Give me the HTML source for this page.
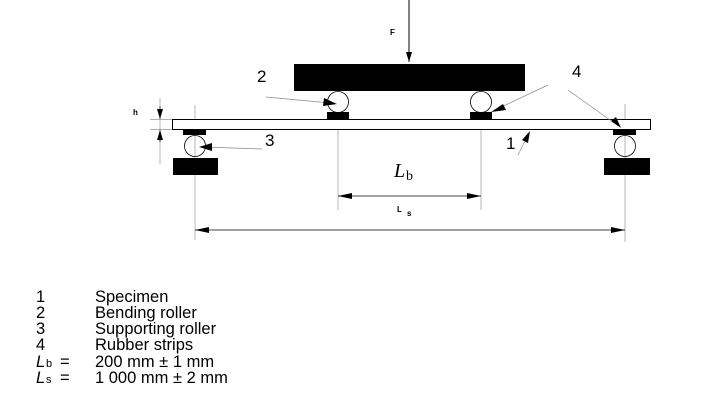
<!DOCTYPE html>
<html><head><meta charset="utf-8"><style>
html,body{margin:0;padding:0;background:#fff;}
svg{display:block;}
</style></head><body>
<svg width="706" height="420" xmlns="http://www.w3.org/2000/svg" font-family="Liberation Sans, sans-serif">
<defs>
<marker id="a" viewBox="0 0 10 6" refX="10" refY="3" markerWidth="10" markerHeight="6" markerUnits="userSpaceOnUse" orient="auto"><path d="M0,0 L10,3 L0,6 z" fill="#000"/></marker>
</defs>
<line x1="409" y1="0" x2="409" y2="62" stroke="#000" stroke-width="1" marker-end="url(#a)"/>
<text x="390" y="35" font-size="8" font-weight="bold">F</text>
<rect x="294" y="64" width="231" height="27" fill="#000"/>
<g stroke="#999" stroke-width="0.7">
<line x1="195" y1="105" x2="195" y2="240"/>
<line x1="338" y1="120" x2="338" y2="210"/>
<line x1="481" y1="120" x2="481" y2="210"/>
<line x1="625" y1="104" x2="625" y2="242"/>
<line x1="160" y1="98" x2="160" y2="164"/>
<line x1="150" y1="119.5" x2="172" y2="119.5"/>
<line x1="150" y1="129.5" x2="172" y2="129.5"/>
</g>
<rect x="172.5" y="119.5" width="478" height="10" fill="#fff" stroke="#000" stroke-width="1"/>
<circle cx="338" cy="102" r="10.5" fill="none" stroke="#000" stroke-width="0.8"/>
<circle cx="481" cy="102" r="10.5" fill="none" stroke="#000" stroke-width="0.8"/>
<rect x="327" y="112" width="22" height="7" fill="#000"/>
<rect x="470" y="112" width="22" height="7" fill="#000"/>
<rect x="183" y="129" width="23" height="6" fill="#000"/>
<circle cx="195" cy="146" r="10.5" fill="none" stroke="#000" stroke-width="0.8"/>
<rect x="173" y="158" width="45" height="17" fill="#000"/>
<rect x="613" y="129" width="23" height="6" fill="#000"/>
<circle cx="625" cy="146" r="10.5" fill="none" stroke="#000" stroke-width="0.8"/>
<rect x="604" y="158" width="46" height="17" fill="#000"/>
<text x="133" y="115" font-size="8" font-weight="bold">h</text>
<line x1="160" y1="106" x2="160" y2="119" stroke="#000" stroke-width="0.7" marker-end="url(#a)"/>
<line x1="160" y1="142" x2="160" y2="130" stroke="#000" stroke-width="0.7" marker-end="url(#a)"/>
<line x1="338" y1="196" x2="481" y2="196" stroke="#000" stroke-width="0.8"/>
<path d="M338,196 L352,193 L352,199 z M481,196 L467,193 L467,199 z" fill="#000"/>
<line x1="195" y1="230" x2="625" y2="230" stroke="#000" stroke-width="0.8"/>
<path d="M195,230 L209,227 L209,233 z M625,230 L611,227 L611,233 z" fill="#000"/>
<text x="394" y="177" font-family="Liberation Serif, serif" font-size="20" font-style="italic">L</text>
<text x="406" y="180" font-family="Liberation Serif, serif" font-size="14">b</text>
<text x="397" y="212" font-size="8" font-weight="bold">L</text>
<text x="407" y="216" font-size="8" font-weight="bold">s</text>
<g font-family="Liberation Sans, sans-serif" font-size="17">
<text x="257" y="82">2</text>
<text x="572" y="77">4</text>
<text x="265" y="146">3</text>
<text x="506" y="149">1</text>
</g>
<g stroke="#888" stroke-width="0.7" fill="none">
<line x1="266" y1="97" x2="330" y2="103"/>
<line x1="548" y1="85" x2="495" y2="110"/>
<line x1="568" y1="90" x2="617" y2="125"/>
<line x1="262" y1="149" x2="203" y2="147"/>
<line x1="518" y1="155" x2="527" y2="137"/>
</g>
<path d="M337,104 L324,98 L323,106 z" fill="#000"/>
<path d="M491,112 L503,104 L506,110 z" fill="#000"/>
<path d="M621,128 L611,121 L616,117 z" fill="#000"/>
<path d="M199,147 L212,143 L212,151 z" fill="#000"/>
<path d="M530,131 L522,140 L528,143 z" fill="#000"/>
<g font-size="16.5" fill="#000">
<text x="36" y="302">1</text><text x="95" y="302">Specimen</text>
<text x="36" y="318">2</text><text x="95" y="318">Bending roller</text>
<text x="36" y="334">3</text><text x="95" y="334">Supporting roller</text>
<text x="36" y="350">4</text><text x="95" y="350">Rubber strips</text>
<text x="36" y="367" font-style="italic">L</text><text x="46" y="367" font-size="11">b</text><text x="60" y="367">=</text><text x="95" y="367">200 mm ± 1 mm</text>
<text x="36" y="383" font-style="italic">L</text><text x="46" y="383" font-size="11">s</text><text x="60" y="383">=</text><text x="95" y="383">1 000 mm ± 2 mm</text>
</g>
</svg>
</body></html>
